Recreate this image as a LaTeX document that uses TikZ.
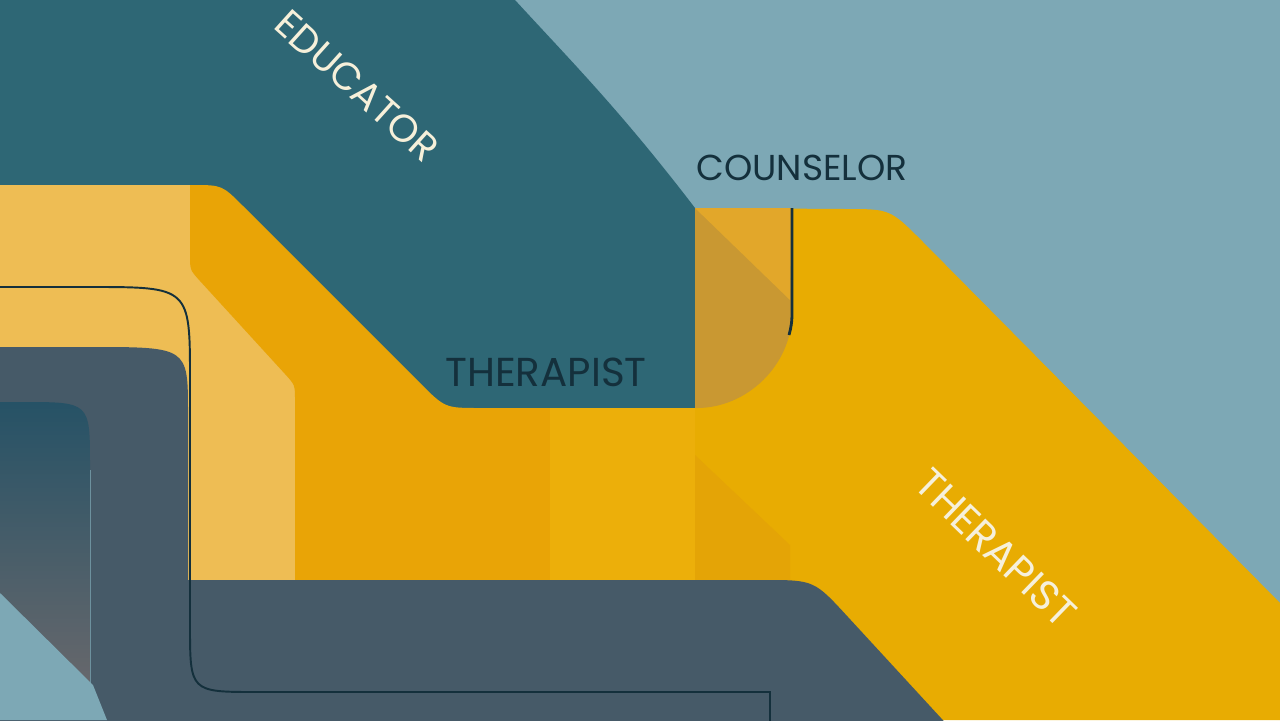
\documentclass[tikz,border=0pt]{standalone}
\usepackage{fontspec}
\newfontfamily\labelfont{Poppins}
\usepackage{tikz}
\definecolor{skyblue}{RGB}{125,168,181}
\definecolor{edublue}{RGB}{46,103,117}
\definecolor{slate}{RGB}{70,90,104}
\definecolor{paleyellow}{RGB}{238,189,84}
\definecolor{deepyellow}{RGB}{233,164,6}
\definecolor{brightyellow}{RGB}{236,175,10}
\definecolor{bandyellow}{RGB}{232,172,2}
\definecolor{bandshade}{RGB}{228,164,6}
\definecolor{tanlight}{RGB}{226,167,42}
\definecolor{tandark}{RGB}{201,152,50}
\definecolor{inkblue}{RGB}{20,48,60}
\definecolor{cream}{RGB}{246,240,218}
\definecolor{innertop}{RGB}{38,82,102}
\definecolor{innerbottom}{RGB}{104,104,108}

\begin{document}
\begin{tikzpicture}[x=0.02cm, y=-0.02cm,
        darklabel/.style={inner sep=0pt, text=inkblue},
        lightlabel/.style={inner sep=0pt, text=cream, font=\labelfont\fontsize{22}{22}\selectfont}]
        \path[use as bounding box, clip] (0,0) rectangle (1280,720);
        \fill[skyblue] (0,0) rectangle (1280,720);

        \fill[edublue] (0,0) -- (515,0) .. controls (570,60) and (620,110) .. (695,208) -- (695,420) -- (0,420) -- cycle;

        \fill[paleyellow] (0,185) -- (195,185) -- (195,260) -- (300,375) -- (300,600) -- (0,600) -- cycle;
        \fill[deepyellow] (190,185) -- (192,185) .. controls (222,185) .. (243,206) -- (420,383) .. controls (445,408) .. (480,408)
            -- (700,408) -- (700,580) -- (295,580) -- (295,400) .. controls (295,385) .. (285,374) -- (200,281) .. controls (190,270) .. (190,255) -- cycle;
        \fill[brightyellow] (550,408) rectangle (700,580);

        \fill[bandyellow] (695,208) -- (845,209) .. controls (890,209) .. (922,241) -- (1280,603) -- (1280,720) -- (695,720) -- cycle;
        \fill[bandshade] (695,455) -- (790,545) -- (790,580) -- (695,580) -- cycle;

        \fill[tandark] (695,208) -- (792,208) -- (792,313) .. controls (792,365) and (747,408) .. (697,408) -- (695,408) -- cycle;
        \fill[tanlight] (695,208) -- (792,208) -- (790,300) -- cycle;
        \draw[line width=1.6pt, inkblue] (792,208) -- (792,313) .. controls (792,322) and (791,328) .. (789,335);

        \fill[slate] (0,347) -- (90,347) .. controls (188,347) .. (188,413) -- (188,730) -- (0,730) -- cycle;
        \fill[slate] (188,580) -- (764,580) .. controls (814,580) .. (848,617) -- (952,730) -- (188,730) -- cycle;
        \shade[top color=innertop, bottom color=innerbottom] (0,402) -- (22,402) .. controls (90,402) .. (90,465) -- (90,690) -- (0,690) -- cycle;
        \draw[very thin, skyblue!70!slate] (90,470) -- (90,685);
        \fill[skyblue] (0,593) -- (93,685) -- (107,720) -- (0,720) -- cycle;

        \draw[line width=1.1pt, inkblue] (0,287) -- (90,287) .. controls (190,287) .. (190,380) -- (190,625) .. controls (190,692) .. (257,692) -- (770,692) -- (770,725);

        \node (educator) at (357,86) [lightlabel, rotate=-42] {EDUCATOR};
        \node (counselor) at (802,168) [darklabel, font=\labelfont\fontsize{20.5}{20.5}\selectfont] {COUNSELOR};
        \node (therapist) at (546,372) [darklabel, font=\labelfont\fontsize{23}{23}\selectfont] {THERAPIST};
        \node (therapistband) at (996,548) [lightlabel, rotate=-44, font=\labelfont\fontsize{23.5}{23.5}\selectfont] {THERAPIST};
    \end{tikzpicture}
\end{document}
